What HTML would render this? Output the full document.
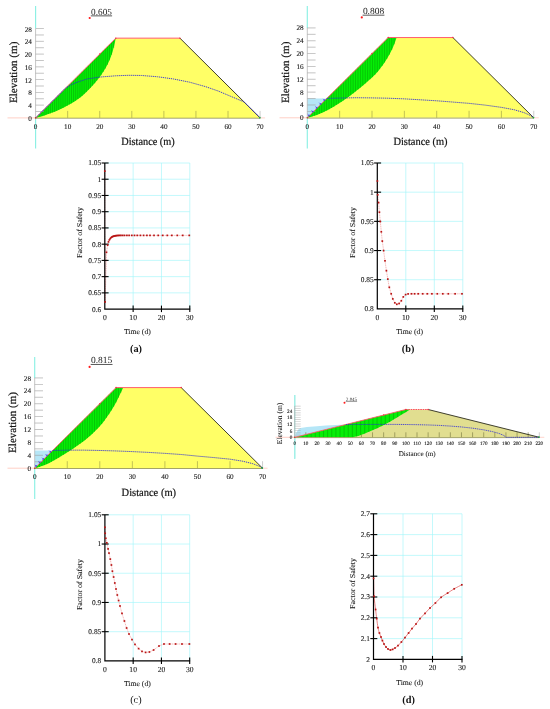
<!DOCTYPE html>
<html lang="en"><head><meta charset="utf-8"><title>Slope stability results</title>
<style>html,body{margin:0;padding:0;background:#fff}body{width:550px;height:709px;overflow:hidden}svg{display:block;font-family:'Liberation Serif', 'DejaVu Serif', serif;text-rendering:geometricPrecision}</style>
</head><body>
<svg width="550" height="709" viewBox="0 0 550 709">
<rect width="550" height="709" fill="#fff"/>
<g>
<line x1="35.6" y1="6" x2="35.6" y2="28.58" stroke="#8cf0e4" stroke-width="1.15"/>
<line x1="35.6" y1="117.9" x2="35.6" y2="148.5" stroke="#8cf0e4" stroke-width="1.15"/>
<line x1="7.5" y1="117.9" x2="35.6" y2="117.9" stroke="#ffc9c0" stroke-width="0.9"/>
<polygon points="35.6,117.9 115.78,38.15 179.91,38.15 260.09,117.9" fill="#ffff66"/>
<line x1="67.67" y1="117.9" x2="67.67" y2="110.9" stroke="#a8a84a" stroke-width="0.7"/>
<line x1="99.74" y1="117.9" x2="99.74" y2="110.9" stroke="#a8a84a" stroke-width="0.7"/>
<line x1="131.81" y1="117.9" x2="131.81" y2="110.9" stroke="#a8a84a" stroke-width="0.7"/>
<line x1="163.88" y1="117.9" x2="163.88" y2="110.9" stroke="#a8a84a" stroke-width="0.7"/>
<line x1="195.95" y1="117.9" x2="195.95" y2="110.9" stroke="#a8a84a" stroke-width="0.7"/>
<line x1="228.02" y1="117.9" x2="228.02" y2="110.9" stroke="#a8a84a" stroke-width="0.7"/>
<polygon points="35.6,117.9 115.78,38.15 115.78,38.15 114.17,45.74 112.57,51.77 110.96,56.54 109.36,60.56 107.76,64 106.15,67.04 104.55,69.79 102.95,72.31 101.34,74.65 99.74,76.88 98.14,79.01 96.53,81.03 94.93,82.95 93.33,84.78 91.72,86.54 90.12,88.22 88.52,89.86 86.91,91.45 85.31,92.99 83.7,94.47 82.1,95.88 80.5,97.21 78.89,98.44 77.29,99.59 75.69,100.68 74.08,101.72 72.48,102.72 70.88,103.67 69.27,104.58 67.67,105.47 66.07,106.32 64.46,107.16 62.86,107.98 61.26,108.77 59.65,109.53 58.05,110.26 56.45,110.96 54.84,111.63 53.24,112.26 51.64,112.86 50.03,113.46 48.43,114.03 46.82,114.59 45.22,115.14 43.62,115.66 42.01,116.16 40.41,116.63 38.81,117.08 37.2,117.51 35.6,117.9" fill="#06ee06"/>
<line x1="37.71" y1="115.8" x2="37.71" y2="117.37" stroke="#05a005" stroke-width="0.5"/>
<line x1="39.82" y1="113.7" x2="39.82" y2="116.8" stroke="#05a005" stroke-width="0.5"/>
<line x1="41.93" y1="111.6" x2="41.93" y2="116.18" stroke="#05a005" stroke-width="0.5"/>
<line x1="44.04" y1="109.51" x2="44.04" y2="115.52" stroke="#05a005" stroke-width="0.5"/>
<line x1="46.15" y1="107.41" x2="46.15" y2="114.82" stroke="#05a005" stroke-width="0.5"/>
<line x1="48.26" y1="105.31" x2="48.26" y2="114.09" stroke="#05a005" stroke-width="0.5"/>
<line x1="50.37" y1="103.21" x2="50.37" y2="113.33" stroke="#05a005" stroke-width="0.5"/>
<line x1="52.48" y1="101.11" x2="52.48" y2="112.55" stroke="#05a005" stroke-width="0.5"/>
<line x1="54.59" y1="99.01" x2="54.59" y2="111.73" stroke="#05a005" stroke-width="0.5"/>
<line x1="56.7" y1="96.91" x2="56.7" y2="110.85" stroke="#05a005" stroke-width="0.5"/>
<line x1="58.81" y1="94.81" x2="58.81" y2="109.92" stroke="#05a005" stroke-width="0.5"/>
<line x1="60.92" y1="92.72" x2="60.92" y2="108.93" stroke="#05a005" stroke-width="0.5"/>
<line x1="63.03" y1="90.62" x2="63.03" y2="107.89" stroke="#05a005" stroke-width="0.5"/>
<line x1="65.14" y1="88.52" x2="65.14" y2="106.81" stroke="#05a005" stroke-width="0.5"/>
<line x1="67.25" y1="86.42" x2="67.25" y2="105.69" stroke="#05a005" stroke-width="0.5"/>
<line x1="69.36" y1="84.32" x2="69.36" y2="104.53" stroke="#05a005" stroke-width="0.5"/>
<line x1="71.47" y1="82.22" x2="71.47" y2="103.32" stroke="#05a005" stroke-width="0.5"/>
<line x1="73.58" y1="80.12" x2="73.58" y2="102.04" stroke="#05a005" stroke-width="0.5"/>
<line x1="75.69" y1="78.03" x2="75.69" y2="100.68" stroke="#05a005" stroke-width="0.5"/>
<line x1="77.8" y1="75.93" x2="77.8" y2="99.23" stroke="#05a005" stroke-width="0.5"/>
<line x1="79.91" y1="73.83" x2="79.91" y2="97.67" stroke="#05a005" stroke-width="0.5"/>
<line x1="82.02" y1="71.73" x2="82.02" y2="95.96" stroke="#05a005" stroke-width="0.5"/>
<line x1="84.13" y1="69.63" x2="84.13" y2="94.09" stroke="#05a005" stroke-width="0.5"/>
<line x1="86.24" y1="67.53" x2="86.24" y2="92.11" stroke="#05a005" stroke-width="0.5"/>
<line x1="88.35" y1="65.43" x2="88.35" y2="90.03" stroke="#05a005" stroke-width="0.5"/>
<line x1="90.46" y1="63.33" x2="90.46" y2="87.87" stroke="#05a005" stroke-width="0.5"/>
<line x1="92.57" y1="61.24" x2="92.57" y2="85.62" stroke="#05a005" stroke-width="0.5"/>
<line x1="94.68" y1="59.14" x2="94.68" y2="83.25" stroke="#05a005" stroke-width="0.5"/>
<line x1="96.79" y1="57.04" x2="96.79" y2="80.72" stroke="#05a005" stroke-width="0.5"/>
<line x1="98.9" y1="54.94" x2="98.9" y2="78.01" stroke="#05a005" stroke-width="0.5"/>
<line x1="101.01" y1="52.84" x2="101.01" y2="75.12" stroke="#05a005" stroke-width="0.5"/>
<line x1="103.12" y1="50.74" x2="103.12" y2="72.05" stroke="#05a005" stroke-width="0.5"/>
<line x1="105.23" y1="48.64" x2="105.23" y2="68.67" stroke="#05a005" stroke-width="0.5"/>
<line x1="107.34" y1="46.54" x2="107.34" y2="64.83" stroke="#05a005" stroke-width="0.5"/>
<line x1="109.45" y1="44.45" x2="109.45" y2="60.37" stroke="#05a005" stroke-width="0.5"/>
<line x1="111.56" y1="42.35" x2="111.56" y2="54.88" stroke="#05a005" stroke-width="0.5"/>
<line x1="113.67" y1="40.25" x2="113.67" y2="47.86" stroke="#05a005" stroke-width="0.5"/>
<line x1="35.6" y1="118.2" x2="260.09" y2="118.2" stroke="#9a9a5a" stroke-width="0.9"/>
<line x1="179.91" y1="38.15" x2="260.09" y2="117.9" stroke="#2a2a1a" stroke-width="0.9"/>
<polyline points="35.6,117.9 115.78,38.15" fill="none" stroke="#ff5a6e" stroke-width="0.9"/>
<line x1="115.78" y1="38.15" x2="179.91" y2="38.15" stroke="#ff5c6e" stroke-width="1"/>
<circle cx="115.78" cy="38.15" r="0.75" fill="#ee2e48"/>
<circle cx="179.91" cy="38.15" r="0.75" fill="#ee2e48"/>
<circle cx="99.74" cy="54.1" r="0.75" fill="#ee2e48"/>
<line x1="35.6" y1="28.58" x2="35.6" y2="117.9" stroke="#b5b5b5" stroke-width="0.8"/>
<line x1="35.6" y1="111.52" x2="43.9" y2="111.52" stroke="#9c9c9c" stroke-width="0.7" opacity="0.85"/>
<line x1="35.6" y1="105.14" x2="43.9" y2="105.14" stroke="#9c9c9c" stroke-width="0.7" opacity="0.85"/>
<line x1="35.6" y1="98.76" x2="43.9" y2="98.76" stroke="#9c9c9c" stroke-width="0.7" opacity="0.85"/>
<line x1="35.6" y1="92.38" x2="43.9" y2="92.38" stroke="#9c9c9c" stroke-width="0.7" opacity="0.85"/>
<line x1="35.6" y1="86" x2="43.9" y2="86" stroke="#9c9c9c" stroke-width="0.7" opacity="0.85"/>
<line x1="35.6" y1="79.62" x2="43.9" y2="79.62" stroke="#9c9c9c" stroke-width="0.7" opacity="0.85"/>
<line x1="35.6" y1="73.24" x2="43.9" y2="73.24" stroke="#9c9c9c" stroke-width="0.7" opacity="0.85"/>
<line x1="35.6" y1="66.86" x2="43.9" y2="66.86" stroke="#9c9c9c" stroke-width="0.7" opacity="0.85"/>
<line x1="35.6" y1="60.48" x2="43.9" y2="60.48" stroke="#9c9c9c" stroke-width="0.7" opacity="0.85"/>
<line x1="35.6" y1="54.1" x2="43.9" y2="54.1" stroke="#9c9c9c" stroke-width="0.7" opacity="0.85"/>
<line x1="35.6" y1="47.72" x2="43.9" y2="47.72" stroke="#9c9c9c" stroke-width="0.7" opacity="0.85"/>
<line x1="35.6" y1="41.34" x2="43.9" y2="41.34" stroke="#9c9c9c" stroke-width="0.7" opacity="0.85"/>
<line x1="35.6" y1="34.96" x2="43.9" y2="34.96" stroke="#9c9c9c" stroke-width="0.7" opacity="0.85"/>
<line x1="35.6" y1="28.58" x2="43.9" y2="28.58" stroke="#9c9c9c" stroke-width="0.7" opacity="0.85"/>
<path d="M35.6 117.9 L65.43 88.23 L70.88 84.88 L77.29 82.17 L86.91 78.98 L99.74 77.07 L115.78 75.79 L128.6 75.31 L141.43 75.47 L157.47 76.75 L173.5 78.98 L189.54 82.17 L205.57 86.64 L218.4 91.1 L231.23 96.53 L244.05 101.95 L260.09 117.9" fill="none" stroke="#2a2ad8" stroke-width="0.9" stroke-dasharray="1.2 0.8"/>
<line x1="260.09" y1="117.9" x2="265.09" y2="117.9" stroke="#ffc9c0" stroke-width="0.8"/>
<line x1="260.09" y1="117.9" x2="260.09" y2="110.9" stroke="#b8b8b8" stroke-width="0.7"/>
<circle cx="259.79" cy="117.7" r="0.9" fill="#20a040"/>
<circle cx="35.6" cy="117.9" r="0.8" fill="#c0392b"/>
<text x="31.9" y="120.88" font-size="7.2" text-anchor="end" fill="#1a1a1a" stroke="#1a1a1a" stroke-width="0.12">0</text>
<text x="31.9" y="108.12" font-size="7.2" text-anchor="end" fill="#1a1a1a" stroke="#1a1a1a" stroke-width="0.12">4</text>
<text x="31.9" y="95.36" font-size="7.2" text-anchor="end" fill="#1a1a1a" stroke="#1a1a1a" stroke-width="0.12">8</text>
<text x="31.9" y="82.6" font-size="7.2" text-anchor="end" fill="#1a1a1a" stroke="#1a1a1a" stroke-width="0.12">12</text>
<text x="31.9" y="69.84" font-size="7.2" text-anchor="end" fill="#1a1a1a" stroke="#1a1a1a" stroke-width="0.12">16</text>
<text x="31.9" y="57.08" font-size="7.2" text-anchor="end" fill="#1a1a1a" stroke="#1a1a1a" stroke-width="0.12">20</text>
<text x="31.9" y="44.32" font-size="7.2" text-anchor="end" fill="#1a1a1a" stroke="#1a1a1a" stroke-width="0.12">24</text>
<text x="31.9" y="31.56" font-size="7.2" text-anchor="end" fill="#1a1a1a" stroke="#1a1a1a" stroke-width="0.12">28</text>
<text x="35.6" y="128.6" font-size="7.2" text-anchor="middle" fill="#1a1a1a" stroke="#1a1a1a" stroke-width="0.12">0</text>
<text x="67.67" y="128.6" font-size="7.2" text-anchor="middle" fill="#1a1a1a" stroke="#1a1a1a" stroke-width="0.12">10</text>
<text x="99.74" y="128.6" font-size="7.2" text-anchor="middle" fill="#1a1a1a" stroke="#1a1a1a" stroke-width="0.12">20</text>
<text x="131.81" y="128.6" font-size="7.2" text-anchor="middle" fill="#1a1a1a" stroke="#1a1a1a" stroke-width="0.12">30</text>
<text x="163.88" y="128.6" font-size="7.2" text-anchor="middle" fill="#1a1a1a" stroke="#1a1a1a" stroke-width="0.12">40</text>
<text x="195.95" y="128.6" font-size="7.2" text-anchor="middle" fill="#1a1a1a" stroke="#1a1a1a" stroke-width="0.12">50</text>
<text x="228.02" y="128.6" font-size="7.2" text-anchor="middle" fill="#1a1a1a" stroke="#1a1a1a" stroke-width="0.12">60</text>
<text x="260.09" y="128.6" font-size="7.2" text-anchor="middle" fill="#1a1a1a" stroke="#1a1a1a" stroke-width="0.12">70</text>
<text transform="translate(17.2 72.3) rotate(-90)" font-size="11" text-anchor="middle" textLength="61.5" lengthAdjust="spacingAndGlyphs" fill="#111" stroke="#111" stroke-width="0.2">Elevation (m)</text>
<text x="148" y="144.9" font-size="11" text-anchor="middle" textLength="53.5" lengthAdjust="spacingAndGlyphs" fill="#111" stroke="#111" stroke-width="0.2">Distance (m)</text>
<circle cx="89.7" cy="18" r="1.1" fill="#ff1a1a"/>
<text x="91.1" y="14.7" font-size="9.3" fill="#222" textLength="20.8" lengthAdjust="spacingAndGlyphs">0.605</text>
<line x1="90.8" y1="15.86" x2="112.1" y2="15.86" stroke="#444" stroke-width="0.88"/>
</g>
<g>
<line x1="307.3" y1="6" x2="307.3" y2="27.92" stroke="#8cf0e4" stroke-width="1.15"/>
<line x1="307.3" y1="117.8" x2="307.3" y2="148.5" stroke="#8cf0e4" stroke-width="1.15"/>
<line x1="279.5" y1="117.8" x2="307.3" y2="117.8" stroke="#ffc9c0" stroke-width="0.9"/>
<polygon points="307.3,117.8 388.18,37.55 452.88,37.55 533.75,117.8" fill="#ffff66"/>
<path d="M307.3 117.8 L307.3 98.38 L326.87 98.38 Z" fill="#b5e6f7"/>
<line x1="339.65" y1="117.8" x2="339.65" y2="110.8" stroke="#a8a84a" stroke-width="0.7"/>
<line x1="372" y1="117.8" x2="372" y2="110.8" stroke="#a8a84a" stroke-width="0.7"/>
<line x1="404.35" y1="117.8" x2="404.35" y2="110.8" stroke="#a8a84a" stroke-width="0.7"/>
<line x1="436.7" y1="117.8" x2="436.7" y2="110.8" stroke="#a8a84a" stroke-width="0.7"/>
<line x1="469.05" y1="117.8" x2="469.05" y2="110.8" stroke="#a8a84a" stroke-width="0.7"/>
<line x1="501.4" y1="117.8" x2="501.4" y2="110.8" stroke="#a8a84a" stroke-width="0.7"/>
<polygon points="307.3,117.8 388.18,37.55 396.59,37.55 396.59,37.55 394.8,42.71 393.01,47.19 391.23,51.06 389.44,54.51 387.66,57.62 385.87,60.47 384.09,63.13 382.3,65.66 380.51,68.1 378.73,70.41 376.94,72.56 375.16,74.5 373.37,76.28 371.59,77.93 369.8,79.51 368.01,81.07 366.23,82.64 364.44,84.19 362.66,85.71 360.87,87.2 359.09,88.68 357.3,90.12 355.51,91.54 353.73,92.93 351.94,94.3 350.16,95.63 348.37,96.93 346.59,98.22 344.8,99.48 343.01,100.71 341.23,101.91 339.44,103.07 337.66,104.23 335.87,105.36 334.09,106.46 332.3,107.51 330.51,108.52 328.73,109.48 326.94,110.43 325.16,111.34 323.37,112.22 321.59,113.04 319.8,113.81 318.01,114.5 316.23,115.15 314.44,115.76 312.66,116.34 310.87,116.88 309.09,117.37 307.3,117.8" fill="#06ee06"/>
<line x1="309.71" y1="115.41" x2="309.71" y2="117.2" stroke="#05a005" stroke-width="0.5"/>
<line x1="312.13" y1="113.01" x2="312.13" y2="116.51" stroke="#05a005" stroke-width="0.5"/>
<line x1="314.54" y1="110.62" x2="314.54" y2="115.73" stroke="#05a005" stroke-width="0.5"/>
<line x1="316.95" y1="108.22" x2="316.95" y2="114.89" stroke="#05a005" stroke-width="0.5"/>
<line x1="319.37" y1="105.83" x2="319.37" y2="113.98" stroke="#05a005" stroke-width="0.5"/>
<line x1="321.78" y1="103.43" x2="321.78" y2="112.96" stroke="#05a005" stroke-width="0.5"/>
<line x1="324.19" y1="101.04" x2="324.19" y2="111.82" stroke="#05a005" stroke-width="0.5"/>
<line x1="326.61" y1="98.64" x2="326.61" y2="110.6" stroke="#05a005" stroke-width="0.5"/>
<line x1="329.02" y1="96.25" x2="329.02" y2="109.33" stroke="#05a005" stroke-width="0.5"/>
<line x1="331.43" y1="93.86" x2="331.43" y2="108.01" stroke="#05a005" stroke-width="0.5"/>
<line x1="333.84" y1="91.46" x2="333.84" y2="106.6" stroke="#05a005" stroke-width="0.5"/>
<line x1="336.26" y1="89.07" x2="336.26" y2="105.12" stroke="#05a005" stroke-width="0.5"/>
<line x1="338.67" y1="86.67" x2="338.67" y2="103.57" stroke="#05a005" stroke-width="0.5"/>
<line x1="341.08" y1="84.28" x2="341.08" y2="102" stroke="#05a005" stroke-width="0.5"/>
<line x1="343.5" y1="81.88" x2="343.5" y2="100.38" stroke="#05a005" stroke-width="0.5"/>
<line x1="345.91" y1="79.49" x2="345.91" y2="98.7" stroke="#05a005" stroke-width="0.5"/>
<line x1="348.32" y1="77.09" x2="348.32" y2="96.97" stroke="#05a005" stroke-width="0.5"/>
<line x1="350.74" y1="74.7" x2="350.74" y2="95.2" stroke="#05a005" stroke-width="0.5"/>
<line x1="353.15" y1="72.3" x2="353.15" y2="93.38" stroke="#05a005" stroke-width="0.5"/>
<line x1="355.56" y1="69.91" x2="355.56" y2="91.5" stroke="#05a005" stroke-width="0.5"/>
<line x1="357.98" y1="67.52" x2="357.98" y2="89.58" stroke="#05a005" stroke-width="0.5"/>
<line x1="360.39" y1="65.12" x2="360.39" y2="87.61" stroke="#05a005" stroke-width="0.5"/>
<line x1="362.8" y1="62.73" x2="362.8" y2="85.59" stroke="#05a005" stroke-width="0.5"/>
<line x1="365.22" y1="60.33" x2="365.22" y2="83.52" stroke="#05a005" stroke-width="0.5"/>
<line x1="367.63" y1="57.94" x2="367.63" y2="81.41" stroke="#05a005" stroke-width="0.5"/>
<line x1="370.04" y1="55.54" x2="370.04" y2="79.3" stroke="#05a005" stroke-width="0.5"/>
<line x1="372.45" y1="53.15" x2="372.45" y2="77.14" stroke="#05a005" stroke-width="0.5"/>
<line x1="374.87" y1="50.75" x2="374.87" y2="74.8" stroke="#05a005" stroke-width="0.5"/>
<line x1="377.28" y1="48.36" x2="377.28" y2="72.17" stroke="#05a005" stroke-width="0.5"/>
<line x1="379.69" y1="45.97" x2="379.69" y2="69.18" stroke="#05a005" stroke-width="0.5"/>
<line x1="382.11" y1="43.57" x2="382.11" y2="65.93" stroke="#05a005" stroke-width="0.5"/>
<line x1="384.52" y1="41.18" x2="384.52" y2="62.5" stroke="#05a005" stroke-width="0.5"/>
<line x1="386.93" y1="38.78" x2="386.93" y2="58.81" stroke="#05a005" stroke-width="0.5"/>
<line x1="389.35" y1="37.55" x2="389.35" y2="54.69" stroke="#05a005" stroke-width="0.5"/>
<line x1="391.76" y1="37.55" x2="391.76" y2="49.96" stroke="#05a005" stroke-width="0.5"/>
<line x1="394.17" y1="37.55" x2="394.17" y2="44.38" stroke="#05a005" stroke-width="0.5"/>
<line x1="307.3" y1="118.1" x2="533.75" y2="118.1" stroke="#9a9a5a" stroke-width="0.9"/>
<line x1="452.88" y1="37.55" x2="533.75" y2="117.8" stroke="#2a2a1a" stroke-width="0.9"/>
<polyline points="307.3,117.8 388.18,37.55" fill="none" stroke="#ff5a6e" stroke-width="0.9"/>
<line x1="388.18" y1="37.55" x2="452.88" y2="37.55" stroke="#ff5c6e" stroke-width="1"/>
<circle cx="388.18" cy="37.55" r="0.75" fill="#ee2e48"/>
<circle cx="452.88" cy="37.55" r="0.75" fill="#ee2e48"/>
<circle cx="372" cy="53.6" r="0.75" fill="#ee2e48"/>
<line x1="307.3" y1="27.92" x2="307.3" y2="117.8" stroke="#b5b5b5" stroke-width="0.8"/>
<line x1="307.3" y1="111.38" x2="315.6" y2="111.38" stroke="#9c9c9c" stroke-width="0.7" opacity="0.85"/>
<line x1="307.3" y1="104.96" x2="315.6" y2="104.96" stroke="#9c9c9c" stroke-width="0.7" opacity="0.85"/>
<line x1="307.3" y1="98.54" x2="315.6" y2="98.54" stroke="#9c9c9c" stroke-width="0.7" opacity="0.85"/>
<line x1="307.3" y1="92.12" x2="315.6" y2="92.12" stroke="#9c9c9c" stroke-width="0.7" opacity="0.85"/>
<line x1="307.3" y1="85.7" x2="315.6" y2="85.7" stroke="#9c9c9c" stroke-width="0.7" opacity="0.85"/>
<line x1="307.3" y1="79.28" x2="315.6" y2="79.28" stroke="#9c9c9c" stroke-width="0.7" opacity="0.85"/>
<line x1="307.3" y1="72.86" x2="315.6" y2="72.86" stroke="#9c9c9c" stroke-width="0.7" opacity="0.85"/>
<line x1="307.3" y1="66.44" x2="315.6" y2="66.44" stroke="#9c9c9c" stroke-width="0.7" opacity="0.85"/>
<line x1="307.3" y1="60.02" x2="315.6" y2="60.02" stroke="#9c9c9c" stroke-width="0.7" opacity="0.85"/>
<line x1="307.3" y1="53.6" x2="315.6" y2="53.6" stroke="#9c9c9c" stroke-width="0.7" opacity="0.85"/>
<line x1="307.3" y1="47.18" x2="315.6" y2="47.18" stroke="#9c9c9c" stroke-width="0.7" opacity="0.85"/>
<line x1="307.3" y1="40.76" x2="315.6" y2="40.76" stroke="#9c9c9c" stroke-width="0.7" opacity="0.85"/>
<line x1="307.3" y1="34.34" x2="315.6" y2="34.34" stroke="#9c9c9c" stroke-width="0.7" opacity="0.85"/>
<line x1="307.3" y1="27.92" x2="315.6" y2="27.92" stroke="#9c9c9c" stroke-width="0.7" opacity="0.85"/>
<path d="M326.71 98.38 L339.65 98.06 L355.82 97.74 L372 97.9 L388.18 98.22 L404.35 98.86 L420.52 99.82 L436.7 100.79 L452.88 102.07 L469.05 103.35 L485.23 105.12 L501.4 107.37 L514.34 109.77 L524.05 112.66 L530.51 115.55 L533.75 117.8" fill="none" stroke="#2a2ad8" stroke-width="0.9" stroke-dasharray="1.2 0.8"/>
<path d="M309.24 115.87 l-1.6 -1.6 M309.24 115.87 l0 -1.3 M309.24 115.87 l-1.3 0" stroke="#3535e0" stroke-width="0.7" fill="none"/><path d="M313.12 112.02 l-1.6 -1.6 M313.12 112.02 l0 -1.3 M313.12 112.02 l-1.3 0" stroke="#3535e0" stroke-width="0.7" fill="none"/><path d="M317 108.17 l-1.6 -1.6 M317 108.17 l0 -1.3 M317 108.17 l-1.3 0" stroke="#3535e0" stroke-width="0.7" fill="none"/><path d="M320.89 104.32 l-1.6 -1.6 M320.89 104.32 l0 -1.3 M320.89 104.32 l-1.3 0" stroke="#3535e0" stroke-width="0.7" fill="none"/><path d="M324.77 100.47 l-1.6 -1.6 M324.77 100.47 l0 -1.3 M324.77 100.47 l-1.3 0" stroke="#3535e0" stroke-width="0.7" fill="none"/>
<line x1="533.75" y1="117.8" x2="538.75" y2="117.8" stroke="#ffc9c0" stroke-width="0.8"/>
<line x1="533.75" y1="117.8" x2="533.75" y2="110.8" stroke="#b8b8b8" stroke-width="0.7"/>
<circle cx="533.45" cy="117.6" r="0.9" fill="#20a040"/>
<circle cx="307.3" cy="117.8" r="0.8" fill="#c0392b"/>
<text x="303.6" y="120.18" font-size="7.2" text-anchor="end" fill="#1a1a1a" stroke="#1a1a1a" stroke-width="0.12">0</text>
<text x="303.6" y="107.34" font-size="7.2" text-anchor="end" fill="#1a1a1a" stroke="#1a1a1a" stroke-width="0.12">4</text>
<text x="303.6" y="94.5" font-size="7.2" text-anchor="end" fill="#1a1a1a" stroke="#1a1a1a" stroke-width="0.12">8</text>
<text x="303.6" y="81.66" font-size="7.2" text-anchor="end" fill="#1a1a1a" stroke="#1a1a1a" stroke-width="0.12">12</text>
<text x="303.6" y="68.82" font-size="7.2" text-anchor="end" fill="#1a1a1a" stroke="#1a1a1a" stroke-width="0.12">16</text>
<text x="303.6" y="55.98" font-size="7.2" text-anchor="end" fill="#1a1a1a" stroke="#1a1a1a" stroke-width="0.12">20</text>
<text x="303.6" y="43.14" font-size="7.2" text-anchor="end" fill="#1a1a1a" stroke="#1a1a1a" stroke-width="0.12">24</text>
<text x="303.6" y="30.3" font-size="7.2" text-anchor="end" fill="#1a1a1a" stroke="#1a1a1a" stroke-width="0.12">28</text>
<text x="307.3" y="128.6" font-size="7.2" text-anchor="middle" fill="#1a1a1a" stroke="#1a1a1a" stroke-width="0.12">0</text>
<text x="339.65" y="128.6" font-size="7.2" text-anchor="middle" fill="#1a1a1a" stroke="#1a1a1a" stroke-width="0.12">10</text>
<text x="372" y="128.6" font-size="7.2" text-anchor="middle" fill="#1a1a1a" stroke="#1a1a1a" stroke-width="0.12">20</text>
<text x="404.35" y="128.6" font-size="7.2" text-anchor="middle" fill="#1a1a1a" stroke="#1a1a1a" stroke-width="0.12">30</text>
<text x="436.7" y="128.6" font-size="7.2" text-anchor="middle" fill="#1a1a1a" stroke="#1a1a1a" stroke-width="0.12">40</text>
<text x="469.05" y="128.6" font-size="7.2" text-anchor="middle" fill="#1a1a1a" stroke="#1a1a1a" stroke-width="0.12">50</text>
<text x="501.4" y="128.6" font-size="7.2" text-anchor="middle" fill="#1a1a1a" stroke="#1a1a1a" stroke-width="0.12">60</text>
<text x="533.75" y="128.6" font-size="7.2" text-anchor="middle" fill="#1a1a1a" stroke="#1a1a1a" stroke-width="0.12">70</text>
<text transform="translate(288.5 72.3) rotate(-90)" font-size="11" text-anchor="middle" textLength="61.5" lengthAdjust="spacingAndGlyphs" fill="#111" stroke="#111" stroke-width="0.2">Elevation (m)</text>
<text x="420.5" y="145.1" font-size="11" text-anchor="middle" textLength="54.2" lengthAdjust="spacingAndGlyphs" fill="#111" stroke="#111" stroke-width="0.2">Distance (m)</text>
<circle cx="361.8" cy="17.4" r="1.1" fill="#ff1a1a"/>
<text x="362.9" y="14" font-size="9.4" fill="#222" textLength="21.3" lengthAdjust="spacingAndGlyphs">0.808</text>
<line x1="362.6" y1="15.18" x2="384.4" y2="15.18" stroke="#444" stroke-width="0.89"/>
</g>
<g>
<line x1="34.7" y1="357" x2="34.7" y2="377.93" stroke="#8cf0e4" stroke-width="1.15"/>
<line x1="34.7" y1="468.2" x2="34.7" y2="499" stroke="#8cf0e4" stroke-width="1.15"/>
<line x1="7.5" y1="468.2" x2="34.7" y2="468.2" stroke="#ffc9c0" stroke-width="0.9"/>
<polygon points="34.7,468.2 116.08,387.6 181.18,387.6 262.55,468.2" fill="#ffff66"/>
<path d="M34.7 468.2 L34.7 450.47 L52.6 450.47 Z" fill="#b5e6f7"/>
<line x1="67.25" y1="468.2" x2="67.25" y2="461.2" stroke="#a8a84a" stroke-width="0.7"/>
<line x1="99.8" y1="468.2" x2="99.8" y2="461.2" stroke="#a8a84a" stroke-width="0.7"/>
<line x1="132.35" y1="468.2" x2="132.35" y2="461.2" stroke="#a8a84a" stroke-width="0.7"/>
<line x1="164.9" y1="468.2" x2="164.9" y2="461.2" stroke="#a8a84a" stroke-width="0.7"/>
<line x1="197.45" y1="468.2" x2="197.45" y2="461.2" stroke="#a8a84a" stroke-width="0.7"/>
<line x1="230" y1="468.2" x2="230" y2="461.2" stroke="#a8a84a" stroke-width="0.7"/>
<polygon points="34.7,468.2 116.08,387.6 123.24,387.6 123.24,387.6 121.47,391.37 119.69,395.1 117.92,398.8 116.15,402.24 114.38,405.42 112.61,408.43 110.84,411.28 109.07,413.99 107.3,416.61 105.53,419.1 103.76,421.45 101.99,423.64 100.22,425.7 98.45,427.66 96.68,429.53 94.9,431.32 93.13,433.04 91.36,434.68 89.59,436.26 87.82,437.77 86.05,439.23 84.28,440.65 82.51,442.01 80.74,443.33 78.97,444.6 77.2,445.84 75.43,447.06 73.66,448.24 71.89,449.4 70.11,450.53 68.34,451.64 66.57,452.76 64.8,453.88 63.03,455 61.26,456.11 59.49,457.2 57.72,458.26 55.95,459.3 54.18,460.35 52.41,461.37 50.64,462.34 48.87,463.22 47.1,463.99 45.32,464.72 43.55,465.42 41.78,466.09 40.01,466.7 38.24,467.26 36.47,467.77 34.7,468.2" fill="#06ee06"/>
<line x1="37.09" y1="465.83" x2="37.09" y2="467.6" stroke="#05a005" stroke-width="0.5"/>
<line x1="39.49" y1="463.46" x2="39.49" y2="466.87" stroke="#05a005" stroke-width="0.5"/>
<line x1="41.88" y1="461.09" x2="41.88" y2="466.05" stroke="#05a005" stroke-width="0.5"/>
<line x1="44.27" y1="458.72" x2="44.27" y2="465.14" stroke="#05a005" stroke-width="0.5"/>
<line x1="46.66" y1="456.35" x2="46.66" y2="464.17" stroke="#05a005" stroke-width="0.5"/>
<line x1="49.06" y1="453.98" x2="49.06" y2="463.13" stroke="#05a005" stroke-width="0.5"/>
<line x1="51.45" y1="451.61" x2="51.45" y2="461.91" stroke="#05a005" stroke-width="0.5"/>
<line x1="53.84" y1="449.24" x2="53.84" y2="460.54" stroke="#05a005" stroke-width="0.5"/>
<line x1="56.24" y1="446.87" x2="56.24" y2="459.13" stroke="#05a005" stroke-width="0.5"/>
<line x1="58.63" y1="444.5" x2="58.63" y2="457.72" stroke="#05a005" stroke-width="0.5"/>
<line x1="61.02" y1="442.13" x2="61.02" y2="456.26" stroke="#05a005" stroke-width="0.5"/>
<line x1="63.41" y1="439.76" x2="63.41" y2="454.76" stroke="#05a005" stroke-width="0.5"/>
<line x1="65.81" y1="437.39" x2="65.81" y2="453.24" stroke="#05a005" stroke-width="0.5"/>
<line x1="68.2" y1="435.02" x2="68.2" y2="451.73" stroke="#05a005" stroke-width="0.5"/>
<line x1="70.59" y1="432.65" x2="70.59" y2="450.22" stroke="#05a005" stroke-width="0.5"/>
<line x1="72.99" y1="430.28" x2="72.99" y2="448.68" stroke="#05a005" stroke-width="0.5"/>
<line x1="75.38" y1="427.91" x2="75.38" y2="447.09" stroke="#05a005" stroke-width="0.5"/>
<line x1="77.77" y1="425.54" x2="77.77" y2="445.44" stroke="#05a005" stroke-width="0.5"/>
<line x1="80.16" y1="423.17" x2="80.16" y2="443.74" stroke="#05a005" stroke-width="0.5"/>
<line x1="82.56" y1="420.8" x2="82.56" y2="441.98" stroke="#05a005" stroke-width="0.5"/>
<line x1="84.95" y1="418.43" x2="84.95" y2="440.12" stroke="#05a005" stroke-width="0.5"/>
<line x1="87.34" y1="416.06" x2="87.34" y2="438.17" stroke="#05a005" stroke-width="0.5"/>
<line x1="89.74" y1="413.69" x2="89.74" y2="436.13" stroke="#05a005" stroke-width="0.5"/>
<line x1="92.13" y1="411.32" x2="92.13" y2="433.98" stroke="#05a005" stroke-width="0.5"/>
<line x1="94.52" y1="408.95" x2="94.52" y2="431.7" stroke="#05a005" stroke-width="0.5"/>
<line x1="96.91" y1="406.58" x2="96.91" y2="429.28" stroke="#05a005" stroke-width="0.5"/>
<line x1="99.31" y1="404.21" x2="99.31" y2="426.72" stroke="#05a005" stroke-width="0.5"/>
<line x1="101.7" y1="401.84" x2="101.7" y2="423.98" stroke="#05a005" stroke-width="0.5"/>
<line x1="104.09" y1="399.47" x2="104.09" y2="421.02" stroke="#05a005" stroke-width="0.5"/>
<line x1="106.49" y1="397.1" x2="106.49" y2="417.77" stroke="#05a005" stroke-width="0.5"/>
<line x1="108.88" y1="394.73" x2="108.88" y2="414.28" stroke="#05a005" stroke-width="0.5"/>
<line x1="111.27" y1="392.36" x2="111.27" y2="410.6" stroke="#05a005" stroke-width="0.5"/>
<line x1="113.66" y1="389.99" x2="113.66" y2="406.66" stroke="#05a005" stroke-width="0.5"/>
<line x1="116.06" y1="387.62" x2="116.06" y2="402.42" stroke="#05a005" stroke-width="0.5"/>
<line x1="118.45" y1="387.6" x2="118.45" y2="397.72" stroke="#05a005" stroke-width="0.5"/>
<line x1="120.84" y1="387.6" x2="120.84" y2="392.68" stroke="#05a005" stroke-width="0.5"/>
<line x1="34.7" y1="468.5" x2="262.55" y2="468.5" stroke="#9a9a5a" stroke-width="0.9"/>
<line x1="181.18" y1="387.6" x2="262.55" y2="468.2" stroke="#2a2a1a" stroke-width="0.9"/>
<polyline points="34.7,468.2 116.08,387.6" fill="none" stroke="#ff5a6e" stroke-width="0.9"/>
<line x1="116.08" y1="387.6" x2="181.18" y2="387.6" stroke="#ff5c6e" stroke-width="1"/>
<circle cx="116.08" cy="387.6" r="0.75" fill="#ee2e48"/>
<circle cx="181.18" cy="387.6" r="0.75" fill="#ee2e48"/>
<circle cx="99.8" cy="403.72" r="0.75" fill="#ee2e48"/>
<line x1="34.7" y1="377.93" x2="34.7" y2="468.2" stroke="#b5b5b5" stroke-width="0.8"/>
<line x1="34.7" y1="461.75" x2="43" y2="461.75" stroke="#9c9c9c" stroke-width="0.7" opacity="0.85"/>
<line x1="34.7" y1="455.3" x2="43" y2="455.3" stroke="#9c9c9c" stroke-width="0.7" opacity="0.85"/>
<line x1="34.7" y1="448.86" x2="43" y2="448.86" stroke="#9c9c9c" stroke-width="0.7" opacity="0.85"/>
<line x1="34.7" y1="442.41" x2="43" y2="442.41" stroke="#9c9c9c" stroke-width="0.7" opacity="0.85"/>
<line x1="34.7" y1="435.96" x2="43" y2="435.96" stroke="#9c9c9c" stroke-width="0.7" opacity="0.85"/>
<line x1="34.7" y1="429.51" x2="43" y2="429.51" stroke="#9c9c9c" stroke-width="0.7" opacity="0.85"/>
<line x1="34.7" y1="423.06" x2="43" y2="423.06" stroke="#9c9c9c" stroke-width="0.7" opacity="0.85"/>
<line x1="34.7" y1="416.62" x2="43" y2="416.62" stroke="#9c9c9c" stroke-width="0.7" opacity="0.85"/>
<line x1="34.7" y1="410.17" x2="43" y2="410.17" stroke="#9c9c9c" stroke-width="0.7" opacity="0.85"/>
<line x1="34.7" y1="403.72" x2="43" y2="403.72" stroke="#9c9c9c" stroke-width="0.7" opacity="0.85"/>
<line x1="34.7" y1="397.27" x2="43" y2="397.27" stroke="#9c9c9c" stroke-width="0.7" opacity="0.85"/>
<line x1="34.7" y1="390.82" x2="43" y2="390.82" stroke="#9c9c9c" stroke-width="0.7" opacity="0.85"/>
<line x1="34.7" y1="384.38" x2="43" y2="384.38" stroke="#9c9c9c" stroke-width="0.7" opacity="0.85"/>
<line x1="34.7" y1="377.93" x2="43" y2="377.93" stroke="#9c9c9c" stroke-width="0.7" opacity="0.85"/>
<path d="M52.6 450.47 L67.25 450.15 L83.53 450.15 L99.8 450.47 L116.08 450.95 L132.35 451.6 L148.62 452.4 L164.9 453.37 L181.18 454.5 L197.45 456.11 L213.73 457.56 L230 459.17 L243.02 461.27 L252.78 463.69 L259.3 466.27 L262.55 468.2" fill="none" stroke="#2a2ad8" stroke-width="0.9" stroke-dasharray="1.2 0.8"/>
<path d="M36.49 466.43 l-1.6 -1.6 M36.49 466.43 l0 -1.3 M36.49 466.43 l-1.3 0" stroke="#3535e0" stroke-width="0.7" fill="none"/><path d="M40.07 462.88 l-1.6 -1.6 M40.07 462.88 l0 -1.3 M40.07 462.88 l-1.3 0" stroke="#3535e0" stroke-width="0.7" fill="none"/><path d="M43.65 459.33 l-1.6 -1.6 M43.65 459.33 l0 -1.3 M43.65 459.33 l-1.3 0" stroke="#3535e0" stroke-width="0.7" fill="none"/><path d="M47.23 455.79 l-1.6 -1.6 M47.23 455.79 l0 -1.3 M47.23 455.79 l-1.3 0" stroke="#3535e0" stroke-width="0.7" fill="none"/><path d="M50.81 452.24 l-1.6 -1.6 M50.81 452.24 l0 -1.3 M50.81 452.24 l-1.3 0" stroke="#3535e0" stroke-width="0.7" fill="none"/>
<line x1="262.55" y1="468.2" x2="267.55" y2="468.2" stroke="#ffc9c0" stroke-width="0.8"/>
<line x1="262.55" y1="468.2" x2="262.55" y2="461.2" stroke="#b8b8b8" stroke-width="0.7"/>
<circle cx="262.25" cy="468" r="0.9" fill="#20a040"/>
<circle cx="34.7" cy="468.2" r="0.8" fill="#c0392b"/>
<text x="31" y="470.78" font-size="7.2" text-anchor="end" fill="#1a1a1a" stroke="#1a1a1a" stroke-width="0.12">0</text>
<text x="31" y="457.88" font-size="7.2" text-anchor="end" fill="#1a1a1a" stroke="#1a1a1a" stroke-width="0.12">4</text>
<text x="31" y="444.98" font-size="7.2" text-anchor="end" fill="#1a1a1a" stroke="#1a1a1a" stroke-width="0.12">8</text>
<text x="31" y="432.09" font-size="7.2" text-anchor="end" fill="#1a1a1a" stroke="#1a1a1a" stroke-width="0.12">12</text>
<text x="31" y="419.19" font-size="7.2" text-anchor="end" fill="#1a1a1a" stroke="#1a1a1a" stroke-width="0.12">16</text>
<text x="31" y="406.3" font-size="7.2" text-anchor="end" fill="#1a1a1a" stroke="#1a1a1a" stroke-width="0.12">20</text>
<text x="31" y="393.4" font-size="7.2" text-anchor="end" fill="#1a1a1a" stroke="#1a1a1a" stroke-width="0.12">24</text>
<text x="31" y="380.5" font-size="7.2" text-anchor="end" fill="#1a1a1a" stroke="#1a1a1a" stroke-width="0.12">28</text>
<text x="34.7" y="479.4" font-size="7.2" text-anchor="middle" fill="#1a1a1a" stroke="#1a1a1a" stroke-width="0.12">0</text>
<text x="67.25" y="479.4" font-size="7.2" text-anchor="middle" fill="#1a1a1a" stroke="#1a1a1a" stroke-width="0.12">10</text>
<text x="99.8" y="479.4" font-size="7.2" text-anchor="middle" fill="#1a1a1a" stroke="#1a1a1a" stroke-width="0.12">20</text>
<text x="132.35" y="479.4" font-size="7.2" text-anchor="middle" fill="#1a1a1a" stroke="#1a1a1a" stroke-width="0.12">30</text>
<text x="164.9" y="479.4" font-size="7.2" text-anchor="middle" fill="#1a1a1a" stroke="#1a1a1a" stroke-width="0.12">40</text>
<text x="197.45" y="479.4" font-size="7.2" text-anchor="middle" fill="#1a1a1a" stroke="#1a1a1a" stroke-width="0.12">50</text>
<text x="230" y="479.4" font-size="7.2" text-anchor="middle" fill="#1a1a1a" stroke="#1a1a1a" stroke-width="0.12">60</text>
<text x="262.55" y="479.4" font-size="7.2" text-anchor="middle" fill="#1a1a1a" stroke="#1a1a1a" stroke-width="0.12">70</text>
<text transform="translate(15.8 422.5) rotate(-90)" font-size="11" text-anchor="middle" textLength="60.8" lengthAdjust="spacingAndGlyphs" fill="#111" stroke="#111" stroke-width="0.2">Elevation (m)</text>
<text x="148.8" y="495.8" font-size="11" text-anchor="middle" textLength="54.5" lengthAdjust="spacingAndGlyphs" fill="#111" stroke="#111" stroke-width="0.2">Distance (m)</text>
<circle cx="89.6" cy="366.9" r="1.1" fill="#ff1a1a"/>
<text x="91" y="363.3" font-size="9.4" fill="#222" textLength="21.3" lengthAdjust="spacingAndGlyphs">0.815</text>
<line x1="90.7" y1="364.48" x2="112.5" y2="364.48" stroke="#444" stroke-width="0.89"/>
</g>
<g>
<line x1="294.7" y1="395" x2="294.7" y2="406.17" stroke="#8cf0e4" stroke-width="1.15"/>
<line x1="294.7" y1="437.3" x2="294.7" y2="458.7" stroke="#8cf0e4" stroke-width="1.15"/>
<line x1="294.7" y1="395" x2="294.7" y2="458.7" stroke="#a5f0e8" stroke-width="1.3"/>
<line x1="275.6" y1="437.3" x2="294.7" y2="437.3" stroke="#ffc9c0" stroke-width="0.9"/>
<polygon points="294.7,437.3 405.88,409.5 428.12,409.5 539.3,437.3" fill="#e1de90"/>
<path d="M294.7 437.3 L295.81 433.41 L298.04 429.74 L300.7 428.07 L306.93 427.07 L316.94 426.18 L325.83 425.51 L335.84 424.96 L341.4 424.63 L345.84 424.51 Z" fill="#b5e6f7"/>
<line x1="305.82" y1="437.3" x2="305.82" y2="432.3" stroke="#85854a" stroke-width="0.7"/>
<line x1="316.94" y1="437.3" x2="316.94" y2="432.3" stroke="#85854a" stroke-width="0.7"/>
<line x1="328.05" y1="437.3" x2="328.05" y2="432.3" stroke="#85854a" stroke-width="0.7"/>
<line x1="339.17" y1="437.3" x2="339.17" y2="432.3" stroke="#85854a" stroke-width="0.7"/>
<line x1="350.29" y1="437.3" x2="350.29" y2="432.3" stroke="#85854a" stroke-width="0.7"/>
<line x1="361.41" y1="437.3" x2="361.41" y2="432.3" stroke="#85854a" stroke-width="0.7"/>
<line x1="372.53" y1="437.3" x2="372.53" y2="432.3" stroke="#85854a" stroke-width="0.7"/>
<line x1="383.64" y1="437.3" x2="383.64" y2="432.3" stroke="#85854a" stroke-width="0.7"/>
<line x1="394.76" y1="437.3" x2="394.76" y2="432.3" stroke="#85854a" stroke-width="0.7"/>
<line x1="405.88" y1="437.3" x2="405.88" y2="432.3" stroke="#85854a" stroke-width="0.7"/>
<line x1="417" y1="437.3" x2="417" y2="432.3" stroke="#85854a" stroke-width="0.7"/>
<line x1="428.12" y1="437.3" x2="428.12" y2="432.3" stroke="#85854a" stroke-width="0.7"/>
<line x1="439.23" y1="437.3" x2="439.23" y2="432.3" stroke="#85854a" stroke-width="0.7"/>
<line x1="450.35" y1="437.3" x2="450.35" y2="432.3" stroke="#85854a" stroke-width="0.7"/>
<line x1="461.47" y1="437.3" x2="461.47" y2="432.3" stroke="#85854a" stroke-width="0.7"/>
<line x1="472.59" y1="437.3" x2="472.59" y2="432.3" stroke="#85854a" stroke-width="0.7"/>
<line x1="483.71" y1="437.3" x2="483.71" y2="432.3" stroke="#85854a" stroke-width="0.7"/>
<line x1="494.82" y1="437.3" x2="494.82" y2="432.3" stroke="#85854a" stroke-width="0.7"/>
<line x1="505.94" y1="437.3" x2="505.94" y2="432.3" stroke="#85854a" stroke-width="0.7"/>
<line x1="517.06" y1="437.3" x2="517.06" y2="432.3" stroke="#85854a" stroke-width="0.7"/>
<line x1="528.18" y1="437.3" x2="528.18" y2="432.3" stroke="#85854a" stroke-width="0.7"/>
<polygon points="294.7,437.3 405.88,409.5 409.99,409.5 409.99,409.5 408.82,410.3 407.65,411.08 406.48,411.81 405.31,412.51 404.13,413.16 402.96,413.82 401.79,414.49 400.62,415.21 399.45,415.95 398.28,416.69 397.1,417.42 395.93,418.14 394.76,418.86 393.59,419.58 392.42,420.3 391.24,421 390.07,421.69 388.9,422.35 387.73,422.99 386.56,423.61 385.39,424.22 384.21,424.81 383.04,425.39 381.87,425.96 380.7,426.53 379.53,427.08 378.35,427.64 377.18,428.19 376.01,428.73 374.84,429.27 373.67,429.8 372.49,430.32 371.32,430.83 370.15,431.33 368.98,431.82 367.81,432.31 366.64,432.79 365.46,433.26 364.29,433.71 363.12,434.16 361.95,434.6 360.78,435.03 359.6,435.47 358.43,435.88 357.26,436.22 356.09,436.5 354.92,436.75 353.75,436.98 352.57,437.16 351.4,437.3" fill="#06ee06"/>
<line x1="298.82" y1="436.27" x2="298.82" y2="437.3" stroke="#05a005" stroke-width="0.5"/>
<line x1="302.94" y1="435.24" x2="302.94" y2="437.3" stroke="#05a005" stroke-width="0.5"/>
<line x1="307.05" y1="434.21" x2="307.05" y2="437.3" stroke="#05a005" stroke-width="0.5"/>
<line x1="311.17" y1="433.18" x2="311.17" y2="437.3" stroke="#05a005" stroke-width="0.5"/>
<line x1="315.29" y1="432.15" x2="315.29" y2="437.3" stroke="#05a005" stroke-width="0.5"/>
<line x1="319.41" y1="431.12" x2="319.41" y2="437.3" stroke="#05a005" stroke-width="0.5"/>
<line x1="323.52" y1="430.09" x2="323.52" y2="437.3" stroke="#05a005" stroke-width="0.5"/>
<line x1="327.64" y1="429.06" x2="327.64" y2="437.3" stroke="#05a005" stroke-width="0.5"/>
<line x1="331.76" y1="428.04" x2="331.76" y2="437.3" stroke="#05a005" stroke-width="0.5"/>
<line x1="335.88" y1="427.01" x2="335.88" y2="437.3" stroke="#05a005" stroke-width="0.5"/>
<line x1="339.99" y1="425.98" x2="339.99" y2="437.3" stroke="#05a005" stroke-width="0.5"/>
<line x1="344.11" y1="424.95" x2="344.11" y2="437.3" stroke="#05a005" stroke-width="0.5"/>
<line x1="348.23" y1="423.92" x2="348.23" y2="437.3" stroke="#05a005" stroke-width="0.5"/>
<line x1="352.35" y1="422.89" x2="352.35" y2="437.19" stroke="#05a005" stroke-width="0.5"/>
<line x1="356.46" y1="421.86" x2="356.46" y2="436.42" stroke="#05a005" stroke-width="0.5"/>
<line x1="360.58" y1="420.83" x2="360.58" y2="435.11" stroke="#05a005" stroke-width="0.5"/>
<line x1="364.7" y1="419.8" x2="364.7" y2="433.56" stroke="#05a005" stroke-width="0.5"/>
<line x1="368.82" y1="418.77" x2="368.82" y2="431.89" stroke="#05a005" stroke-width="0.5"/>
<line x1="372.93" y1="417.74" x2="372.93" y2="430.12" stroke="#05a005" stroke-width="0.5"/>
<line x1="377.05" y1="416.71" x2="377.05" y2="428.25" stroke="#05a005" stroke-width="0.5"/>
<line x1="381.17" y1="415.68" x2="381.17" y2="426.3" stroke="#05a005" stroke-width="0.5"/>
<line x1="385.29" y1="414.65" x2="385.29" y2="424.27" stroke="#05a005" stroke-width="0.5"/>
<line x1="389.41" y1="413.62" x2="389.41" y2="422.07" stroke="#05a005" stroke-width="0.5"/>
<line x1="393.52" y1="412.59" x2="393.52" y2="419.62" stroke="#05a005" stroke-width="0.5"/>
<line x1="397.64" y1="411.56" x2="397.64" y2="417.09" stroke="#05a005" stroke-width="0.5"/>
<line x1="401.76" y1="410.54" x2="401.76" y2="414.51" stroke="#05a005" stroke-width="0.5"/>
<line x1="405.88" y1="409.51" x2="405.88" y2="412.18" stroke="#05a005" stroke-width="0.5"/>
<line x1="294.7" y1="437.6" x2="539.3" y2="437.6" stroke="#9a9a5a" stroke-width="0.9"/>
<line x1="428.12" y1="409.5" x2="539.3" y2="437.3" stroke="#2a2a1a" stroke-width="0.9"/>
<polyline points="294.7,437.3 405.88,409.5" fill="none" stroke="#ff5a6e" stroke-width="0.9"/>
<line x1="405.88" y1="409.5" x2="428.12" y2="409.5" stroke="#ff4d5e" stroke-width="1" stroke-dasharray="1.6 0.8"/>
<circle cx="405.88" cy="409.5" r="0.75" fill="#ee2e48"/>
<circle cx="428.12" cy="409.5" r="0.75" fill="#ee2e48"/>
<circle cx="383.64" cy="415.06" r="0.75" fill="#ee2e48"/>
<line x1="294.7" y1="406.17" x2="294.7" y2="437.3" stroke="#b5b5b5" stroke-width="0.8"/>
<line x1="294.7" y1="435.08" x2="300.7" y2="435.08" stroke="#9c9c9c" stroke-width="0.5" opacity="0.85"/>
<line x1="294.7" y1="432.85" x2="300.7" y2="432.85" stroke="#9c9c9c" stroke-width="0.5" opacity="0.85"/>
<line x1="294.7" y1="430.63" x2="300.7" y2="430.63" stroke="#9c9c9c" stroke-width="0.5" opacity="0.85"/>
<line x1="294.7" y1="428.41" x2="300.7" y2="428.41" stroke="#9c9c9c" stroke-width="0.5" opacity="0.85"/>
<line x1="294.7" y1="426.18" x2="300.7" y2="426.18" stroke="#9c9c9c" stroke-width="0.5" opacity="0.85"/>
<line x1="294.7" y1="423.96" x2="300.7" y2="423.96" stroke="#9c9c9c" stroke-width="0.5" opacity="0.85"/>
<line x1="294.7" y1="421.73" x2="300.7" y2="421.73" stroke="#9c9c9c" stroke-width="0.5" opacity="0.85"/>
<line x1="294.7" y1="419.51" x2="300.7" y2="419.51" stroke="#9c9c9c" stroke-width="0.5" opacity="0.85"/>
<line x1="294.7" y1="417.29" x2="300.7" y2="417.29" stroke="#9c9c9c" stroke-width="0.5" opacity="0.85"/>
<line x1="294.7" y1="415.06" x2="300.7" y2="415.06" stroke="#9c9c9c" stroke-width="0.5" opacity="0.85"/>
<line x1="294.7" y1="412.84" x2="300.7" y2="412.84" stroke="#9c9c9c" stroke-width="0.5" opacity="0.85"/>
<line x1="294.7" y1="410.62" x2="300.7" y2="410.62" stroke="#9c9c9c" stroke-width="0.5" opacity="0.85"/>
<line x1="294.7" y1="408.39" x2="300.7" y2="408.39" stroke="#9c9c9c" stroke-width="0.5" opacity="0.85"/>
<line x1="294.7" y1="406.17" x2="300.7" y2="406.17" stroke="#9c9c9c" stroke-width="0.5" opacity="0.85"/>
<path d="M345.84 424.51 L372.53 424.4 L394.76 424.4 L405.88 424.51 L417 424.68 L428.12 424.96 L439.23 425.4 L450.35 426.07 L461.47 426.96 L472.59 428.18 L483.71 429.85 L492.6 431.63 L499.27 433.52 L503.72 435.41 L505.94 437.3 L539.3 437.3" fill="none" stroke="#2a2ad8" stroke-width="0.8" stroke-dasharray="1.2 0.7"/>
<line x1="539.3" y1="437.3" x2="544.3" y2="437.3" stroke="#ffc9c0" stroke-width="0.8"/>
<line x1="539.3" y1="437.3" x2="539.3" y2="432.3" stroke="#b8b8b8" stroke-width="0.7"/>
<circle cx="539" cy="437.1" r="0.9" fill="#20a040"/>
<circle cx="294.7" cy="437.3" r="0.8" fill="#c0392b"/>
<text x="292.2" y="439.28" font-size="5.1" text-anchor="end" fill="#1a1a1a" stroke="#1a1a1a" stroke-width="0.12">0</text>
<text x="292.2" y="432.61" font-size="5.1" text-anchor="end" fill="#1a1a1a" stroke="#1a1a1a" stroke-width="0.12">6</text>
<text x="292.2" y="425.94" font-size="5.1" text-anchor="end" fill="#1a1a1a" stroke="#1a1a1a" stroke-width="0.12">12</text>
<text x="292.2" y="419.27" font-size="5.1" text-anchor="end" fill="#1a1a1a" stroke="#1a1a1a" stroke-width="0.12">18</text>
<text x="292.2" y="412.6" font-size="5.1" text-anchor="end" fill="#1a1a1a" stroke="#1a1a1a" stroke-width="0.12">24</text>
<text x="294.7" y="444.6" font-size="5.1" text-anchor="middle" fill="#1a1a1a" stroke="#1a1a1a" stroke-width="0.12">0</text>
<text x="305.82" y="444.6" font-size="5.1" text-anchor="middle" fill="#1a1a1a" stroke="#1a1a1a" stroke-width="0.12">10</text>
<text x="316.94" y="444.6" font-size="5.1" text-anchor="middle" fill="#1a1a1a" stroke="#1a1a1a" stroke-width="0.12">20</text>
<text x="328.05" y="444.6" font-size="5.1" text-anchor="middle" fill="#1a1a1a" stroke="#1a1a1a" stroke-width="0.12">30</text>
<text x="339.17" y="444.6" font-size="5.1" text-anchor="middle" fill="#1a1a1a" stroke="#1a1a1a" stroke-width="0.12">40</text>
<text x="350.29" y="444.6" font-size="5.1" text-anchor="middle" fill="#1a1a1a" stroke="#1a1a1a" stroke-width="0.12">50</text>
<text x="361.41" y="444.6" font-size="5.1" text-anchor="middle" fill="#1a1a1a" stroke="#1a1a1a" stroke-width="0.12">60</text>
<text x="372.53" y="444.6" font-size="5.1" text-anchor="middle" fill="#1a1a1a" stroke="#1a1a1a" stroke-width="0.12">70</text>
<text x="383.64" y="444.6" font-size="5.1" text-anchor="middle" fill="#1a1a1a" stroke="#1a1a1a" stroke-width="0.12">80</text>
<text x="394.76" y="444.6" font-size="5.1" text-anchor="middle" fill="#1a1a1a" stroke="#1a1a1a" stroke-width="0.12">90</text>
<text x="405.88" y="444.6" font-size="5.1" text-anchor="middle" fill="#1a1a1a" stroke="#1a1a1a" stroke-width="0.12">100</text>
<text x="417" y="444.6" font-size="5.1" text-anchor="middle" fill="#1a1a1a" stroke="#1a1a1a" stroke-width="0.12">110</text>
<text x="428.12" y="444.6" font-size="5.1" text-anchor="middle" fill="#1a1a1a" stroke="#1a1a1a" stroke-width="0.12">120</text>
<text x="439.23" y="444.6" font-size="5.1" text-anchor="middle" fill="#1a1a1a" stroke="#1a1a1a" stroke-width="0.12">130</text>
<text x="450.35" y="444.6" font-size="5.1" text-anchor="middle" fill="#1a1a1a" stroke="#1a1a1a" stroke-width="0.12">140</text>
<text x="461.47" y="444.6" font-size="5.1" text-anchor="middle" fill="#1a1a1a" stroke="#1a1a1a" stroke-width="0.12">150</text>
<text x="472.59" y="444.6" font-size="5.1" text-anchor="middle" fill="#1a1a1a" stroke="#1a1a1a" stroke-width="0.12">160</text>
<text x="483.71" y="444.6" font-size="5.1" text-anchor="middle" fill="#1a1a1a" stroke="#1a1a1a" stroke-width="0.12">170</text>
<text x="494.82" y="444.6" font-size="5.1" text-anchor="middle" fill="#1a1a1a" stroke="#1a1a1a" stroke-width="0.12">180</text>
<text x="505.94" y="444.6" font-size="5.1" text-anchor="middle" fill="#1a1a1a" stroke="#1a1a1a" stroke-width="0.12">190</text>
<text x="517.06" y="444.6" font-size="5.1" text-anchor="middle" fill="#1a1a1a" stroke="#1a1a1a" stroke-width="0.12">200</text>
<text x="528.18" y="444.6" font-size="5.1" text-anchor="middle" fill="#1a1a1a" stroke="#1a1a1a" stroke-width="0.12">210</text>
<text x="539.3" y="444.6" font-size="5.1" text-anchor="middle" fill="#1a1a1a" stroke="#1a1a1a" stroke-width="0.12">220</text>
<text transform="translate(282 423.5) rotate(-90)" font-size="7.5" text-anchor="middle" textLength="41.5" lengthAdjust="spacingAndGlyphs" fill="#111" stroke="#111" stroke-width="0.05">Elevation (m)</text>
<text x="417.2" y="455.7" font-size="7.1" text-anchor="middle" textLength="37" lengthAdjust="spacingAndGlyphs" fill="#111" stroke="#111" stroke-width="0.05">Distance (m)</text>
<circle cx="344.5" cy="402.8" r="1" fill="#ff1a1a"/>
<text x="346" y="400.9" font-size="5" fill="#222" textLength="10.9" lengthAdjust="spacingAndGlyphs">2.045</text>
<line x1="345.7" y1="401.52" x2="357.1" y2="401.52" stroke="#444" stroke-width="0.5"/>
</g>
<g>
<line x1="104.8" y1="163" x2="189.8" y2="163" stroke="#a4f5fb" stroke-width="0.65"/>
<line x1="104.8" y1="179.23" x2="189.8" y2="179.23" stroke="#a4f5fb" stroke-width="0.65"/>
<line x1="104.8" y1="195.47" x2="189.8" y2="195.47" stroke="#a4f5fb" stroke-width="0.65"/>
<line x1="104.8" y1="211.7" x2="189.8" y2="211.7" stroke="#a4f5fb" stroke-width="0.65"/>
<line x1="104.8" y1="227.93" x2="189.8" y2="227.93" stroke="#a4f5fb" stroke-width="0.65"/>
<line x1="104.8" y1="244.17" x2="189.8" y2="244.17" stroke="#a4f5fb" stroke-width="0.65"/>
<line x1="104.8" y1="260.4" x2="189.8" y2="260.4" stroke="#a4f5fb" stroke-width="0.65"/>
<line x1="104.8" y1="276.63" x2="189.8" y2="276.63" stroke="#a4f5fb" stroke-width="0.65"/>
<line x1="104.8" y1="292.87" x2="189.8" y2="292.87" stroke="#a4f5fb" stroke-width="0.65"/>
<line x1="133.13" y1="163" x2="133.13" y2="309.1" stroke="#a4f5fb" stroke-width="0.65"/>
<line x1="161.47" y1="163" x2="161.47" y2="309.1" stroke="#a4f5fb" stroke-width="0.65"/>
<line x1="189.8" y1="163" x2="189.8" y2="309.1" stroke="#a4f5fb" stroke-width="0.65"/>
<path d="M104.8 171.12 L105.14 301.96 L106.5 252.28 L107.63 245.14 L108.48 241.89 L109.33 239.95 L110.18 238.65 L111.03 237.67 L111.88 237.02 L112.73 236.54 L113.58 236.21 L114.43 235.99 L115.28 235.79 L116.13 235.66 L117.27 235.53 L118.4 235.47 L119.53 235.4 L120.95 235.4 L122.65 235.4 L124.5 235.4 L126.9 235.4 L129.1 235.4 L131.8 235.4 L134.5 235.4 L137.3 235.4 L140.4 235.4 L143.6 235.4 L146.9 235.4 L150 235.4 L154 235.4 L158.2 235.4 L162.7 235.4 L167.3 235.4 L171.8 235.4 L177.3 235.4 L182.7 235.4 L189.3 235.4" fill="none" stroke="#f08a8a" stroke-width="0.6" stroke-dasharray="1.2 0.6"/>
<path d="M104.8 163 V309.1 H190.2" fill="none" stroke="#000" stroke-width="1.2"/>
<line x1="101.6" y1="163" x2="108.6" y2="163" stroke="#000" stroke-width="1.1"/>
<line x1="101.6" y1="179.23" x2="108.6" y2="179.23" stroke="#000" stroke-width="1.1"/>
<line x1="101.6" y1="195.47" x2="108.6" y2="195.47" stroke="#000" stroke-width="1.1"/>
<line x1="101.6" y1="211.7" x2="108.6" y2="211.7" stroke="#000" stroke-width="1.1"/>
<line x1="101.6" y1="227.93" x2="108.6" y2="227.93" stroke="#000" stroke-width="1.1"/>
<line x1="101.6" y1="244.17" x2="108.6" y2="244.17" stroke="#000" stroke-width="1.1"/>
<line x1="101.6" y1="260.4" x2="108.6" y2="260.4" stroke="#000" stroke-width="1.1"/>
<line x1="101.6" y1="276.63" x2="108.6" y2="276.63" stroke="#000" stroke-width="1.1"/>
<line x1="101.6" y1="292.87" x2="108.6" y2="292.87" stroke="#000" stroke-width="1.1"/>
<line x1="133.13" y1="305.6" x2="133.13" y2="312.1" stroke="#000" stroke-width="1.1"/>
<line x1="161.47" y1="305.6" x2="161.47" y2="312.1" stroke="#000" stroke-width="1.1"/>
<line x1="189.8" y1="305.6" x2="189.8" y2="312.1" stroke="#000" stroke-width="1.1"/>
<text x="101.2" y="165.4" font-size="7.4" text-anchor="end" fill="#222" stroke="#222" stroke-width="0.12">1.05</text>
<text x="101.2" y="181.63" font-size="7.4" text-anchor="end" fill="#222" stroke="#222" stroke-width="0.12">1</text>
<text x="101.2" y="197.87" font-size="7.4" text-anchor="end" fill="#222" stroke="#222" stroke-width="0.12">0.95</text>
<text x="101.2" y="214.1" font-size="7.4" text-anchor="end" fill="#222" stroke="#222" stroke-width="0.12">0.9</text>
<text x="101.2" y="230.33" font-size="7.4" text-anchor="end" fill="#222" stroke="#222" stroke-width="0.12">0.85</text>
<text x="101.2" y="246.57" font-size="7.4" text-anchor="end" fill="#222" stroke="#222" stroke-width="0.12">0.8</text>
<text x="101.2" y="262.8" font-size="7.4" text-anchor="end" fill="#222" stroke="#222" stroke-width="0.12">0.75</text>
<text x="101.2" y="279.03" font-size="7.4" text-anchor="end" fill="#222" stroke="#222" stroke-width="0.12">0.7</text>
<text x="101.2" y="295.27" font-size="7.4" text-anchor="end" fill="#222" stroke="#222" stroke-width="0.12">0.65</text>
<text x="101.2" y="311.5" font-size="7.4" text-anchor="end" fill="#222" stroke="#222" stroke-width="0.12">0.6</text>
<text x="104.8" y="319.8" font-size="7.6" text-anchor="middle" fill="#222" stroke="#222" stroke-width="0.12">0</text>
<text x="133.13" y="319.8" font-size="7.6" text-anchor="middle" fill="#222" stroke="#222" stroke-width="0.12">10</text>
<text x="161.47" y="319.8" font-size="7.6" text-anchor="middle" fill="#222" stroke="#222" stroke-width="0.12">20</text>
<text x="189.8" y="319.8" font-size="7.6" text-anchor="middle" fill="#222" stroke="#222" stroke-width="0.12">30</text>
<rect x="103.95" y="170.27" width="1.7" height="1.7" fill="#b81414"/>
<rect x="104.29" y="301.11" width="1.7" height="1.7" fill="#b81414"/>
<rect x="105.65" y="251.43" width="1.7" height="1.7" fill="#b81414"/>
<rect x="106.78" y="244.29" width="1.7" height="1.7" fill="#b81414"/>
<rect x="107.63" y="241.04" width="1.7" height="1.7" fill="#b81414"/>
<rect x="108.48" y="239.1" width="1.7" height="1.7" fill="#b81414"/>
<rect x="109.33" y="237.8" width="1.7" height="1.7" fill="#b81414"/>
<rect x="110.18" y="236.82" width="1.7" height="1.7" fill="#b81414"/>
<rect x="111.03" y="236.17" width="1.7" height="1.7" fill="#b81414"/>
<rect x="111.88" y="235.69" width="1.7" height="1.7" fill="#b81414"/>
<rect x="112.73" y="235.36" width="1.7" height="1.7" fill="#b81414"/>
<rect x="113.58" y="235.14" width="1.7" height="1.7" fill="#b81414"/>
<rect x="114.43" y="234.94" width="1.7" height="1.7" fill="#b81414"/>
<rect x="115.28" y="234.81" width="1.7" height="1.7" fill="#b81414"/>
<rect x="116.42" y="234.68" width="1.7" height="1.7" fill="#b81414"/>
<rect x="117.55" y="234.62" width="1.7" height="1.7" fill="#b81414"/>
<rect x="118.68" y="234.55" width="1.7" height="1.7" fill="#b81414"/>
<rect x="120.1" y="234.55" width="1.7" height="1.7" fill="#b81414"/>
<rect x="121.8" y="234.55" width="1.7" height="1.7" fill="#b81414"/>
<rect x="123.65" y="234.55" width="1.7" height="1.7" fill="#b81414"/>
<rect x="126.05" y="234.55" width="1.7" height="1.7" fill="#b81414"/>
<rect x="128.25" y="234.55" width="1.7" height="1.7" fill="#b81414"/>
<rect x="130.95" y="234.55" width="1.7" height="1.7" fill="#b81414"/>
<rect x="133.65" y="234.55" width="1.7" height="1.7" fill="#b81414"/>
<rect x="136.45" y="234.55" width="1.7" height="1.7" fill="#b81414"/>
<rect x="139.55" y="234.55" width="1.7" height="1.7" fill="#b81414"/>
<rect x="142.75" y="234.55" width="1.7" height="1.7" fill="#b81414"/>
<rect x="146.05" y="234.55" width="1.7" height="1.7" fill="#b81414"/>
<rect x="149.15" y="234.55" width="1.7" height="1.7" fill="#b81414"/>
<rect x="153.15" y="234.55" width="1.7" height="1.7" fill="#b81414"/>
<rect x="157.35" y="234.55" width="1.7" height="1.7" fill="#b81414"/>
<rect x="161.85" y="234.55" width="1.7" height="1.7" fill="#b81414"/>
<rect x="166.45" y="234.55" width="1.7" height="1.7" fill="#b81414"/>
<rect x="170.95" y="234.55" width="1.7" height="1.7" fill="#b81414"/>
<rect x="176.45" y="234.55" width="1.7" height="1.7" fill="#b81414"/>
<rect x="181.85" y="234.55" width="1.7" height="1.7" fill="#b81414"/>
<rect x="188.45" y="234.55" width="1.7" height="1.7" fill="#b81414"/>
<text transform="translate(82.3 232.5) rotate(-90)" font-size="7.5" text-anchor="middle" textLength="51" lengthAdjust="spacingAndGlyphs" fill="#222" stroke="#222" stroke-width="0.1">Factor of Safety</text>
<text x="137.4" y="334" font-size="7.5" text-anchor="middle" textLength="26.9" lengthAdjust="spacingAndGlyphs" fill="#222" stroke="#222" stroke-width="0.1">Time (d)</text>
<text x="136" y="351.5" font-size="10.3" text-anchor="middle" fill="#111" font-weight="bold">(a)</text>
</g>
<g>
<line x1="377.3" y1="163" x2="462.8" y2="163" stroke="#a4f5fb" stroke-width="0.65"/>
<line x1="377.3" y1="192.18" x2="462.8" y2="192.18" stroke="#a4f5fb" stroke-width="0.65"/>
<line x1="377.3" y1="221.36" x2="462.8" y2="221.36" stroke="#a4f5fb" stroke-width="0.65"/>
<line x1="377.3" y1="250.54" x2="462.8" y2="250.54" stroke="#a4f5fb" stroke-width="0.65"/>
<line x1="377.3" y1="279.72" x2="462.8" y2="279.72" stroke="#a4f5fb" stroke-width="0.65"/>
<line x1="405.8" y1="163" x2="405.8" y2="308.9" stroke="#a4f5fb" stroke-width="0.65"/>
<line x1="434.3" y1="163" x2="434.3" y2="308.9" stroke="#a4f5fb" stroke-width="0.65"/>
<line x1="462.8" y1="163" x2="462.8" y2="308.9" stroke="#a4f5fb" stroke-width="0.65"/>
<path d="M377.4 181 L377.7 194.8 L378.6 202.6 L379.4 212.2 L380.3 221.5 L381.3 231.8 L382.3 241.1 L383.6 250.6 L385 260.8 L386.4 270.7 L387.8 279.1 L389.3 287.3 L391.2 293.8 L392.8 298.9 L394.8 302.8 L396.8 304.3 L399.1 303.5 L401.3 300.8 L403.3 296.9 L405.6 294.6 L408.1 293.9 L411.5 293.8 L414.6 293.8 L418.2 293.8 L422.7 293.8 L427.3 293.8 L431.9 293.8 L437.3 293.8 L442.8 293.8 L448.3 293.8 L455.1 293.8 L462 293.8" fill="none" stroke="#f08a8a" stroke-width="0.6" stroke-dasharray="1.2 0.6"/>
<path d="M377.3 163 V308.9 H463.2" fill="none" stroke="#000" stroke-width="1.2"/>
<line x1="374.1" y1="163" x2="381.1" y2="163" stroke="#000" stroke-width="1.1"/>
<line x1="374.1" y1="192.18" x2="381.1" y2="192.18" stroke="#000" stroke-width="1.1"/>
<line x1="374.1" y1="221.36" x2="381.1" y2="221.36" stroke="#000" stroke-width="1.1"/>
<line x1="374.1" y1="250.54" x2="381.1" y2="250.54" stroke="#000" stroke-width="1.1"/>
<line x1="374.1" y1="279.72" x2="381.1" y2="279.72" stroke="#000" stroke-width="1.1"/>
<line x1="405.8" y1="305.4" x2="405.8" y2="311.9" stroke="#000" stroke-width="1.1"/>
<line x1="434.3" y1="305.4" x2="434.3" y2="311.9" stroke="#000" stroke-width="1.1"/>
<line x1="462.8" y1="305.4" x2="462.8" y2="311.9" stroke="#000" stroke-width="1.1"/>
<text x="373.7" y="165.4" font-size="7.4" text-anchor="end" fill="#222" stroke="#222" stroke-width="0.12">1.05</text>
<text x="373.7" y="194.58" font-size="7.4" text-anchor="end" fill="#222" stroke="#222" stroke-width="0.12">1</text>
<text x="373.7" y="223.76" font-size="7.4" text-anchor="end" fill="#222" stroke="#222" stroke-width="0.12">0.95</text>
<text x="373.7" y="252.94" font-size="7.4" text-anchor="end" fill="#222" stroke="#222" stroke-width="0.12">0.9</text>
<text x="373.7" y="282.12" font-size="7.4" text-anchor="end" fill="#222" stroke="#222" stroke-width="0.12">0.85</text>
<text x="373.7" y="311.3" font-size="7.4" text-anchor="end" fill="#222" stroke="#222" stroke-width="0.12">0.8</text>
<text x="377.3" y="319.6" font-size="7.6" text-anchor="middle" fill="#222" stroke="#222" stroke-width="0.12">0</text>
<text x="405.8" y="319.6" font-size="7.6" text-anchor="middle" fill="#222" stroke="#222" stroke-width="0.12">10</text>
<text x="434.3" y="319.6" font-size="7.6" text-anchor="middle" fill="#222" stroke="#222" stroke-width="0.12">20</text>
<text x="462.8" y="319.6" font-size="7.6" text-anchor="middle" fill="#222" stroke="#222" stroke-width="0.12">30</text>
<rect x="376.55" y="180.15" width="1.7" height="1.7" fill="#b81414"/>
<rect x="376.85" y="193.95" width="1.7" height="1.7" fill="#b81414"/>
<rect x="377.75" y="201.75" width="1.7" height="1.7" fill="#b81414"/>
<rect x="378.55" y="211.35" width="1.7" height="1.7" fill="#b81414"/>
<rect x="379.45" y="220.65" width="1.7" height="1.7" fill="#b81414"/>
<rect x="380.45" y="230.95" width="1.7" height="1.7" fill="#b81414"/>
<rect x="381.45" y="240.25" width="1.7" height="1.7" fill="#b81414"/>
<rect x="382.75" y="249.75" width="1.7" height="1.7" fill="#b81414"/>
<rect x="384.15" y="259.95" width="1.7" height="1.7" fill="#b81414"/>
<rect x="385.55" y="269.85" width="1.7" height="1.7" fill="#b81414"/>
<rect x="386.95" y="278.25" width="1.7" height="1.7" fill="#b81414"/>
<rect x="388.45" y="286.45" width="1.7" height="1.7" fill="#b81414"/>
<rect x="390.35" y="292.95" width="1.7" height="1.7" fill="#b81414"/>
<rect x="391.95" y="298.05" width="1.7" height="1.7" fill="#b81414"/>
<rect x="393.95" y="301.95" width="1.7" height="1.7" fill="#b81414"/>
<rect x="395.95" y="303.45" width="1.7" height="1.7" fill="#b81414"/>
<rect x="398.25" y="302.65" width="1.7" height="1.7" fill="#b81414"/>
<rect x="400.45" y="299.95" width="1.7" height="1.7" fill="#b81414"/>
<rect x="402.45" y="296.05" width="1.7" height="1.7" fill="#b81414"/>
<rect x="404.75" y="293.75" width="1.7" height="1.7" fill="#b81414"/>
<rect x="407.25" y="293.05" width="1.7" height="1.7" fill="#b81414"/>
<rect x="410.65" y="292.95" width="1.7" height="1.7" fill="#b81414"/>
<rect x="413.75" y="292.95" width="1.7" height="1.7" fill="#b81414"/>
<rect x="417.35" y="292.95" width="1.7" height="1.7" fill="#b81414"/>
<rect x="421.85" y="292.95" width="1.7" height="1.7" fill="#b81414"/>
<rect x="426.45" y="292.95" width="1.7" height="1.7" fill="#b81414"/>
<rect x="431.05" y="292.95" width="1.7" height="1.7" fill="#b81414"/>
<rect x="436.45" y="292.95" width="1.7" height="1.7" fill="#b81414"/>
<rect x="441.95" y="292.95" width="1.7" height="1.7" fill="#b81414"/>
<rect x="447.45" y="292.95" width="1.7" height="1.7" fill="#b81414"/>
<rect x="454.25" y="292.95" width="1.7" height="1.7" fill="#b81414"/>
<rect x="461.15" y="292.95" width="1.7" height="1.7" fill="#b81414"/>
<text transform="translate(354.5 232.5) rotate(-90)" font-size="7.5" text-anchor="middle" textLength="51" lengthAdjust="spacingAndGlyphs" fill="#222" stroke="#222" stroke-width="0.1">Factor of Safety</text>
<text x="409.6" y="334.4" font-size="7.5" text-anchor="middle" textLength="26.9" lengthAdjust="spacingAndGlyphs" fill="#222" stroke="#222" stroke-width="0.1">Time (d)</text>
<text x="408.1" y="352" font-size="10.3" text-anchor="middle" fill="#111" font-weight="bold">(b)</text>
</g>
<g>
<line x1="104.9" y1="514.8" x2="189.7" y2="514.8" stroke="#a4f5fb" stroke-width="0.65"/>
<line x1="104.9" y1="544.02" x2="189.7" y2="544.02" stroke="#a4f5fb" stroke-width="0.65"/>
<line x1="104.9" y1="573.24" x2="189.7" y2="573.24" stroke="#a4f5fb" stroke-width="0.65"/>
<line x1="104.9" y1="602.46" x2="189.7" y2="602.46" stroke="#a4f5fb" stroke-width="0.65"/>
<line x1="104.9" y1="631.68" x2="189.7" y2="631.68" stroke="#a4f5fb" stroke-width="0.65"/>
<line x1="133.17" y1="514.8" x2="133.17" y2="660.9" stroke="#a4f5fb" stroke-width="0.65"/>
<line x1="161.43" y1="514.8" x2="161.43" y2="660.9" stroke="#a4f5fb" stroke-width="0.65"/>
<line x1="189.7" y1="514.8" x2="189.7" y2="660.9" stroke="#a4f5fb" stroke-width="0.65"/>
<path d="M104.9 527.3 L105.2 533.3 L105.8 538.3 L106.8 542.8 L108.1 548.9 L109 553.1 L110.3 559.1 L111.4 565 L112.4 571.2 L113.6 577 L114.8 583 L116 589 L117.3 595 L118.6 600.5 L120 606 L122 613.4 L124.4 621 L126.6 628 L129 634 L132 639.6 L135 644.4 L138.6 648.6 L142 651.4 L145.6 652.4 L149.4 652 L153.6 650 L159 646 L164 644 L169.6 644 L175.6 644 L182 644 L189.4 644" fill="none" stroke="#f08a8a" stroke-width="0.6" stroke-dasharray="1.2 0.6"/>
<path d="M104.9 514.8 V660.9 H190.1" fill="none" stroke="#000" stroke-width="1.2"/>
<line x1="101.7" y1="514.8" x2="108.7" y2="514.8" stroke="#000" stroke-width="1.1"/>
<line x1="101.7" y1="544.02" x2="108.7" y2="544.02" stroke="#000" stroke-width="1.1"/>
<line x1="101.7" y1="573.24" x2="108.7" y2="573.24" stroke="#000" stroke-width="1.1"/>
<line x1="101.7" y1="602.46" x2="108.7" y2="602.46" stroke="#000" stroke-width="1.1"/>
<line x1="101.7" y1="631.68" x2="108.7" y2="631.68" stroke="#000" stroke-width="1.1"/>
<line x1="133.17" y1="657.4" x2="133.17" y2="663.9" stroke="#000" stroke-width="1.1"/>
<line x1="161.43" y1="657.4" x2="161.43" y2="663.9" stroke="#000" stroke-width="1.1"/>
<line x1="189.7" y1="657.4" x2="189.7" y2="663.9" stroke="#000" stroke-width="1.1"/>
<text x="101.3" y="517.2" font-size="7.4" text-anchor="end" fill="#222" stroke="#222" stroke-width="0.12">1.05</text>
<text x="101.3" y="546.42" font-size="7.4" text-anchor="end" fill="#222" stroke="#222" stroke-width="0.12">1</text>
<text x="101.3" y="575.64" font-size="7.4" text-anchor="end" fill="#222" stroke="#222" stroke-width="0.12">0.95</text>
<text x="101.3" y="604.86" font-size="7.4" text-anchor="end" fill="#222" stroke="#222" stroke-width="0.12">0.9</text>
<text x="101.3" y="634.08" font-size="7.4" text-anchor="end" fill="#222" stroke="#222" stroke-width="0.12">0.85</text>
<text x="101.3" y="663.3" font-size="7.4" text-anchor="end" fill="#222" stroke="#222" stroke-width="0.12">0.8</text>
<text x="104.9" y="671.6" font-size="7.6" text-anchor="middle" fill="#222" stroke="#222" stroke-width="0.12">0</text>
<text x="133.17" y="671.6" font-size="7.6" text-anchor="middle" fill="#222" stroke="#222" stroke-width="0.12">10</text>
<text x="161.43" y="671.6" font-size="7.6" text-anchor="middle" fill="#222" stroke="#222" stroke-width="0.12">20</text>
<text x="189.7" y="671.6" font-size="7.6" text-anchor="middle" fill="#222" stroke="#222" stroke-width="0.12">30</text>
<rect x="104.05" y="526.45" width="1.7" height="1.7" fill="#b81414"/>
<rect x="104.35" y="532.45" width="1.7" height="1.7" fill="#b81414"/>
<rect x="104.95" y="537.45" width="1.7" height="1.7" fill="#b81414"/>
<rect x="105.95" y="541.95" width="1.7" height="1.7" fill="#b81414"/>
<rect x="107.25" y="548.05" width="1.7" height="1.7" fill="#b81414"/>
<rect x="108.15" y="552.25" width="1.7" height="1.7" fill="#b81414"/>
<rect x="109.45" y="558.25" width="1.7" height="1.7" fill="#b81414"/>
<rect x="110.55" y="564.15" width="1.7" height="1.7" fill="#b81414"/>
<rect x="111.55" y="570.35" width="1.7" height="1.7" fill="#b81414"/>
<rect x="112.75" y="576.15" width="1.7" height="1.7" fill="#b81414"/>
<rect x="113.95" y="582.15" width="1.7" height="1.7" fill="#b81414"/>
<rect x="115.15" y="588.15" width="1.7" height="1.7" fill="#b81414"/>
<rect x="116.45" y="594.15" width="1.7" height="1.7" fill="#b81414"/>
<rect x="117.75" y="599.65" width="1.7" height="1.7" fill="#b81414"/>
<rect x="119.15" y="605.15" width="1.7" height="1.7" fill="#b81414"/>
<rect x="121.15" y="612.55" width="1.7" height="1.7" fill="#b81414"/>
<rect x="123.55" y="620.15" width="1.7" height="1.7" fill="#b81414"/>
<rect x="125.75" y="627.15" width="1.7" height="1.7" fill="#b81414"/>
<rect x="128.15" y="633.15" width="1.7" height="1.7" fill="#b81414"/>
<rect x="131.15" y="638.75" width="1.7" height="1.7" fill="#b81414"/>
<rect x="134.15" y="643.55" width="1.7" height="1.7" fill="#b81414"/>
<rect x="137.75" y="647.75" width="1.7" height="1.7" fill="#b81414"/>
<rect x="141.15" y="650.55" width="1.7" height="1.7" fill="#b81414"/>
<rect x="144.75" y="651.55" width="1.7" height="1.7" fill="#b81414"/>
<rect x="148.55" y="651.15" width="1.7" height="1.7" fill="#b81414"/>
<rect x="152.75" y="649.15" width="1.7" height="1.7" fill="#b81414"/>
<rect x="158.15" y="645.15" width="1.7" height="1.7" fill="#b81414"/>
<rect x="163.15" y="643.15" width="1.7" height="1.7" fill="#b81414"/>
<rect x="168.75" y="643.15" width="1.7" height="1.7" fill="#b81414"/>
<rect x="174.75" y="643.15" width="1.7" height="1.7" fill="#b81414"/>
<rect x="181.15" y="643.15" width="1.7" height="1.7" fill="#b81414"/>
<rect x="188.55" y="643.15" width="1.7" height="1.7" fill="#b81414"/>
<text transform="translate(82 584.6) rotate(-90)" font-size="7.5" text-anchor="middle" textLength="51" lengthAdjust="spacingAndGlyphs" fill="#222" stroke="#222" stroke-width="0.1">Factor of Safety</text>
<text x="137.4" y="686" font-size="7.5" text-anchor="middle" textLength="26.9" lengthAdjust="spacingAndGlyphs" fill="#222" stroke="#222" stroke-width="0.1">Time (d)</text>
<text x="135.9" y="703" font-size="10.3" text-anchor="middle" fill="#111">(c)</text>
</g>
<g>
<line x1="373.5" y1="513.8" x2="462" y2="513.8" stroke="#a4f5fb" stroke-width="0.65"/>
<line x1="373.5" y1="534.6" x2="462" y2="534.6" stroke="#a4f5fb" stroke-width="0.65"/>
<line x1="373.5" y1="555.4" x2="462" y2="555.4" stroke="#a4f5fb" stroke-width="0.65"/>
<line x1="373.5" y1="576.2" x2="462" y2="576.2" stroke="#a4f5fb" stroke-width="0.65"/>
<line x1="373.5" y1="597" x2="462" y2="597" stroke="#a4f5fb" stroke-width="0.65"/>
<line x1="373.5" y1="617.8" x2="462" y2="617.8" stroke="#a4f5fb" stroke-width="0.65"/>
<line x1="373.5" y1="638.6" x2="462" y2="638.6" stroke="#a4f5fb" stroke-width="0.65"/>
<line x1="403" y1="513.8" x2="403" y2="659.4" stroke="#a4f5fb" stroke-width="0.65"/>
<line x1="432.5" y1="513.8" x2="432.5" y2="659.4" stroke="#a4f5fb" stroke-width="0.65"/>
<line x1="462" y1="513.8" x2="462" y2="659.4" stroke="#a4f5fb" stroke-width="0.65"/>
<path d="M373.6 578.4 C373.68 581.38 373.77 591.12 374.1 596.3 C374.43 601.48 375.17 605.78 375.6 609.5 C376.03 613.22 376.3 615.58 376.7 618.6 C377.1 621.62 377.55 625.2 378 627.6 C378.45 630 378.9 631.43 379.4 633 C379.9 634.57 380.5 635.73 381 637 C381.5 638.27 381.9 639.43 382.4 640.6 C382.9 641.77 383.4 642.93 384 644 C384.6 645.07 385.33 646.17 386 647 C386.67 647.83 387.27 648.5 388 649 C388.73 649.5 389.63 649.93 390.4 650 C391.17 650.07 391.83 649.73 392.6 649.4 C393.37 649.07 394.1 648.63 395 648 C395.9 647.37 396.93 646.6 398 645.6 C399.07 644.6 400.23 643.33 401.4 642 C402.57 640.67 403.8 639.1 405 637.6 C406.2 636.1 407.43 634.5 408.6 633 C409.77 631.5 410.77 630.1 412 628.6 C413.23 627.1 414.67 625.67 416 624 C417.33 622.33 418.5 620.37 420 618.6 C421.5 616.83 423.33 615.17 425 613.4 C426.67 611.63 428.27 609.73 430 608 C431.73 606.27 433.55 604.78 435.4 603 C437.25 601.22 439.07 598.95 441.1 597.3 C443.13 595.65 445.42 594.52 447.6 593.1 C449.78 591.68 451.83 590.18 454.2 588.8 C456.57 587.42 460.53 585.47 461.8 584.8" fill="none" stroke="#e05050" stroke-width="0.7" />
<path d="M373.5 513.8 V659.4 H462.4" fill="none" stroke="#000" stroke-width="1.2"/>
<line x1="370.3" y1="513.8" x2="377.3" y2="513.8" stroke="#000" stroke-width="1.1"/>
<line x1="370.3" y1="534.6" x2="377.3" y2="534.6" stroke="#000" stroke-width="1.1"/>
<line x1="370.3" y1="555.4" x2="377.3" y2="555.4" stroke="#000" stroke-width="1.1"/>
<line x1="370.3" y1="576.2" x2="377.3" y2="576.2" stroke="#000" stroke-width="1.1"/>
<line x1="370.3" y1="597" x2="377.3" y2="597" stroke="#000" stroke-width="1.1"/>
<line x1="370.3" y1="617.8" x2="377.3" y2="617.8" stroke="#000" stroke-width="1.1"/>
<line x1="370.3" y1="638.6" x2="377.3" y2="638.6" stroke="#000" stroke-width="1.1"/>
<line x1="403" y1="655.9" x2="403" y2="662.4" stroke="#000" stroke-width="1.1"/>
<line x1="432.5" y1="655.9" x2="432.5" y2="662.4" stroke="#000" stroke-width="1.1"/>
<line x1="462" y1="655.9" x2="462" y2="662.4" stroke="#000" stroke-width="1.1"/>
<text x="369.9" y="516.2" font-size="7.4" text-anchor="end" fill="#222" stroke="#222" stroke-width="0.12">2.7</text>
<text x="369.9" y="537" font-size="7.4" text-anchor="end" fill="#222" stroke="#222" stroke-width="0.12">2.6</text>
<text x="369.9" y="557.8" font-size="7.4" text-anchor="end" fill="#222" stroke="#222" stroke-width="0.12">2.5</text>
<text x="369.9" y="578.6" font-size="7.4" text-anchor="end" fill="#222" stroke="#222" stroke-width="0.12">2.4</text>
<text x="369.9" y="599.4" font-size="7.4" text-anchor="end" fill="#222" stroke="#222" stroke-width="0.12">2.3</text>
<text x="369.9" y="620.2" font-size="7.4" text-anchor="end" fill="#222" stroke="#222" stroke-width="0.12">2.2</text>
<text x="369.9" y="641" font-size="7.4" text-anchor="end" fill="#222" stroke="#222" stroke-width="0.12">2.1</text>
<text x="369.9" y="661.8" font-size="7.4" text-anchor="end" fill="#222" stroke="#222" stroke-width="0.12">2</text>
<text x="373.5" y="670.1" font-size="7.6" text-anchor="middle" fill="#222" stroke="#222" stroke-width="0.12">0</text>
<text x="403" y="670.1" font-size="7.6" text-anchor="middle" fill="#222" stroke="#222" stroke-width="0.12">10</text>
<text x="432.5" y="670.1" font-size="7.6" text-anchor="middle" fill="#222" stroke="#222" stroke-width="0.12">20</text>
<text x="462" y="670.1" font-size="7.6" text-anchor="middle" fill="#222" stroke="#222" stroke-width="0.12">30</text>
<rect x="372.75" y="577.55" width="1.7" height="1.7" fill="#b81414"/>
<rect x="373.25" y="595.45" width="1.7" height="1.7" fill="#b81414"/>
<rect x="374.75" y="608.65" width="1.7" height="1.7" fill="#b81414"/>
<rect x="375.85" y="617.75" width="1.7" height="1.7" fill="#b81414"/>
<rect x="377.15" y="626.75" width="1.7" height="1.7" fill="#b81414"/>
<rect x="378.55" y="632.15" width="1.7" height="1.7" fill="#b81414"/>
<rect x="380.15" y="636.15" width="1.7" height="1.7" fill="#b81414"/>
<rect x="381.55" y="639.75" width="1.7" height="1.7" fill="#b81414"/>
<rect x="383.15" y="643.15" width="1.7" height="1.7" fill="#b81414"/>
<rect x="385.15" y="646.15" width="1.7" height="1.7" fill="#b81414"/>
<rect x="387.15" y="648.15" width="1.7" height="1.7" fill="#b81414"/>
<rect x="389.55" y="649.15" width="1.7" height="1.7" fill="#b81414"/>
<rect x="391.75" y="648.55" width="1.7" height="1.7" fill="#b81414"/>
<rect x="394.15" y="647.15" width="1.7" height="1.7" fill="#b81414"/>
<rect x="397.15" y="644.75" width="1.7" height="1.7" fill="#b81414"/>
<rect x="400.55" y="641.15" width="1.7" height="1.7" fill="#b81414"/>
<rect x="404.15" y="636.75" width="1.7" height="1.7" fill="#b81414"/>
<rect x="407.75" y="632.15" width="1.7" height="1.7" fill="#b81414"/>
<rect x="411.15" y="627.75" width="1.7" height="1.7" fill="#b81414"/>
<rect x="415.15" y="623.15" width="1.7" height="1.7" fill="#b81414"/>
<rect x="419.15" y="617.75" width="1.7" height="1.7" fill="#b81414"/>
<rect x="424.15" y="612.55" width="1.7" height="1.7" fill="#b81414"/>
<rect x="429.15" y="607.15" width="1.7" height="1.7" fill="#b81414"/>
<rect x="434.55" y="602.15" width="1.7" height="1.7" fill="#b81414"/>
<rect x="440.25" y="596.45" width="1.7" height="1.7" fill="#b81414"/>
<rect x="446.75" y="592.25" width="1.7" height="1.7" fill="#b81414"/>
<rect x="453.35" y="587.95" width="1.7" height="1.7" fill="#b81414"/>
<rect x="460.95" y="583.95" width="1.7" height="1.7" fill="#b81414"/>
<text transform="translate(355 583.5) rotate(-90)" font-size="7.5" text-anchor="middle" textLength="51" lengthAdjust="spacingAndGlyphs" fill="#222" stroke="#222" stroke-width="0.1">Factor of Safety</text>
<text x="409.7" y="684.8" font-size="7.5" text-anchor="middle" textLength="26.9" lengthAdjust="spacingAndGlyphs" fill="#222" stroke="#222" stroke-width="0.1">Time (d)</text>
<text x="408.6" y="703" font-size="10.3" text-anchor="middle" fill="#111" font-weight="bold">(d)</text>
</g>
</svg>
</body></html>
